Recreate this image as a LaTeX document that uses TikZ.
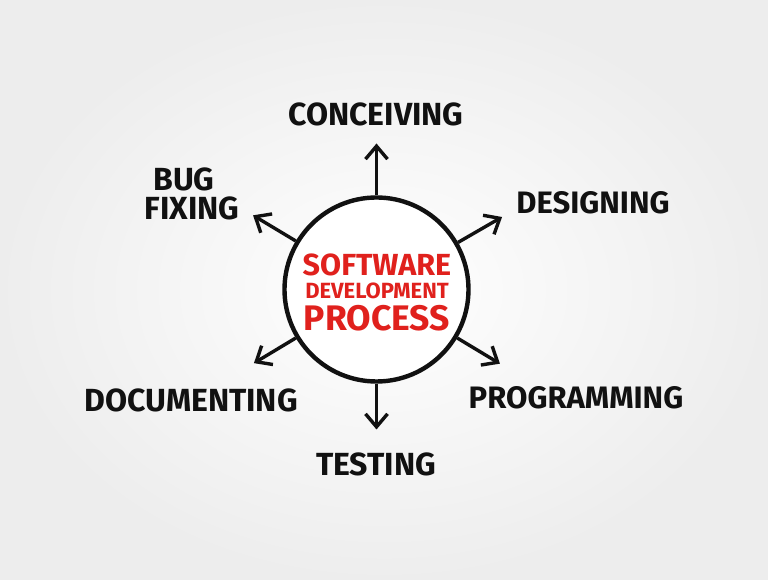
\documentclass[tikz,border=0pt]{standalone}
\usepackage{fontspec}
\usepackage{xcolor}
\usepackage{tikz}
\usetikzlibrary{arrows.meta}
\usetikzlibrary{calc}
\newfontfamily\handfont{Fira Sans}
\definecolor{sdpred}{HTML}{E0211D}
\definecolor{sdpink}{HTML}{111111}
\newcommand{\sdparrow}{-{Straight Barb[length=13pt,width=22pt,line width=3.4pt]}}
\tikzset{
	lbl/.style={text=sdpink,font=\handfont\bfseries\fontsize{32}{28}\selectfont,inner sep=0pt},
	hub/.style={circle,draw=sdpink,line width=4.4pt,fill=white,minimum size=184pt,inner sep=0pt},
	spoke/.style={sdpink,line width=3.4pt,\sdparrow}
}

\begin{document}
\begin{tikzpicture}[x=1pt,y=1pt]
		\useasboundingbox (0,0) rectangle (768,580);
		\shade[inner color=white,outer color=black!7] (0,0) rectangle (768,580);
		% centre
		\node[hub] (sdp) at (376.5,290.5) {};
		\node[text=sdpred,font=\handfont\bfseries\fontsize{30.5}{30}\selectfont,inner sep=0pt] (sw) at (377,315) {SOFTWARE};
		\node[text=sdpred,font=\handfont\bfseries\fontsize{22}{24}\selectfont,inner sep=0pt] (dev) at (377,289) {DEVELOPMENT};
		\node[text=sdpred,font=\handfont\bfseries\fontsize{35.5}{30}\selectfont,inner sep=0pt] (proc) at (377,262) {PROCESS};
		% arrow ends
		\coordinate (up) at ($(sdp)+(90:146)$);
		\coordinate (ur) at ($(sdp)+(30:145)$);
		\coordinate (ul) at ($(sdp)+(149:144)$);
		\coordinate (dl) at ($(sdp)+(211:143)$);
		\coordinate (dr) at ($(sdp)+(-31:144)$);
		\coordinate (dn) at ($(sdp)+(-90:140)$);
		\draw[spoke] (sdp.90) -- (up);
		\draw[spoke] (sdp.30) -- (ur);
		\draw[spoke] (sdp.149) -- (ul);
		\draw[spoke] (sdp.211) -- (dl);
		\draw[spoke] (sdp.-31) -- (dr);
		\draw[spoke] (sdp.-90) -- (dn);
		% labels
		\node[lbl] (conc) at (376,466) {CONCEIVING};
		\node[lbl] (bug) at (184,401) {BUG};
		\node[lbl] (fix) at (192,372) {FIXING};
		\node[lbl,font=\handfont\bfseries\fontsize{31}{28}\selectfont] (des) at (593,377) {DESIGNING};
		\node[lbl] (doc) at (191,180) {DOCUMENTING};
		\node[lbl,font=\handfont\bfseries\fontsize{31}{28}\selectfont] (prog) at (576,182) {PROGRAMMING};
		\node[lbl] (test) at (376,116) {TESTING};
		\end{tikzpicture}
\end{document}
